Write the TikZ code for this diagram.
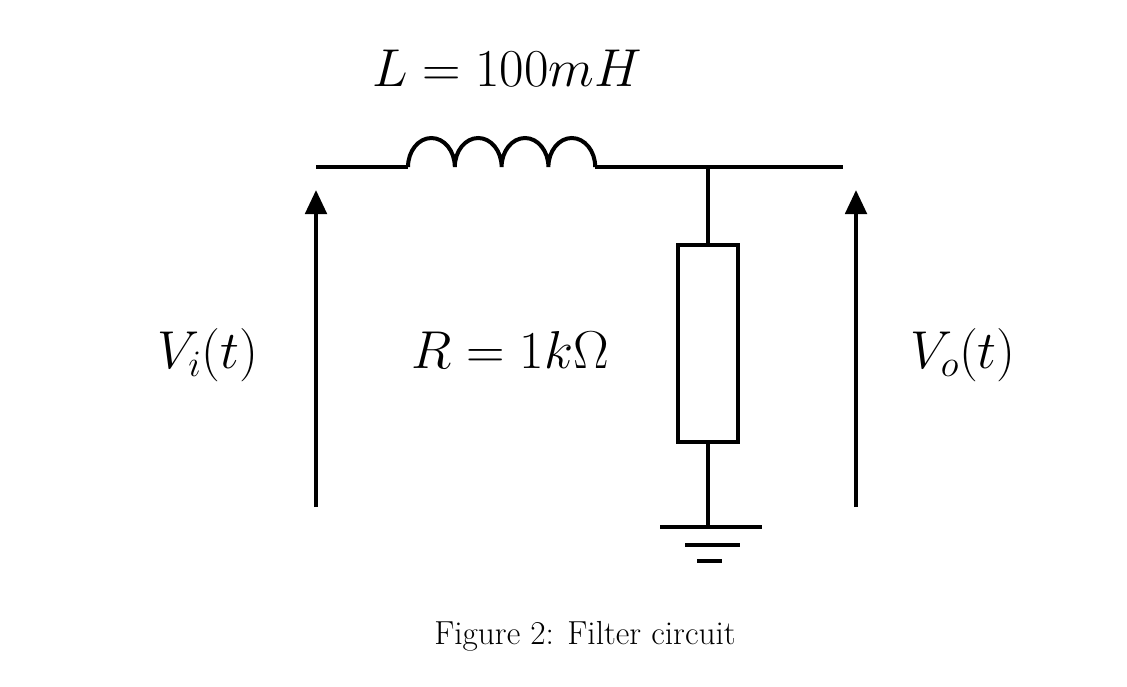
\documentclass[tikz,border=0pt]{standalone}
\usepackage{fix-cm}
\usetikzlibrary{arrows.meta}
\tikzset{
  wire/.style={line width=3pt, line cap=butt},
  varrow/.style={wire, -{Triangle[length=18pt,width=16pt]}},
  lbl/.style={font=\fontsize{40}{46}\selectfont}
}
\begin{document}
\begin{tikzpicture}[x=0.75pt,y=-0.75pt]
\useasboundingbox (0,0) rectangle (1127,686);
% nodes and points
\coordinate (inA) at (316,167);
\coordinate (Ls) at (408,167);
\coordinate (Le) at (595,167);
\coordinate (J) at (708,167);
\coordinate (outA) at (843,167);
\node (R) [draw, line width=3pt, minimum width=45pt, minimum height=148pt, inner sep=0pt] at (708,343.5) {};
\coordinate (G) at (708,527);
\coordinate (Vib) at (316,507);
\coordinate (Vit) at (316,190);
\coordinate (Vob) at (856,507);
\coordinate (Vot) at (856,190);
% wires
\draw[wire] (inA) -- (Ls);
\draw[wire] (Ls) arc[start angle=180,end angle=360,x radius=23.4,y radius=29]
  arc[start angle=180,end angle=360,x radius=23.4,y radius=29]
  arc[start angle=180,end angle=360,x radius=23.4,y radius=29]
  arc[start angle=180,end angle=360,x radius=23.4,y radius=29];
\draw[wire] (Le) -- (outA);
\draw[wire] (J) -- (R.north);
\draw[wire] (R.south) -- (G);
% ground
\draw[wire] (660,527) -- (762,527);
\draw[wire] (685,545) -- (740,545);
\draw[wire] (697,561) -- (722,561);
% voltage arrows
\draw[varrow] (Vib) -- (Vit);
\draw[varrow] (Vob) -- (Vot);
% labels
\node (Llbl) [lbl] at (507,68) {$L=100mH$};
\node (Rlbl) [lbl] at (510,350) {$R=1k\Omega$};
\node (Vi) [lbl] at (208,355) {$V_i(t)$};
\node (Vo) [lbl] at (963,355) {$V_o(t)$};
\node (cap) [font=\fontsize{25}{30}\selectfont] at (585,636) {Figure 2: Filter circuit};
\end{tikzpicture}
\end{document}
